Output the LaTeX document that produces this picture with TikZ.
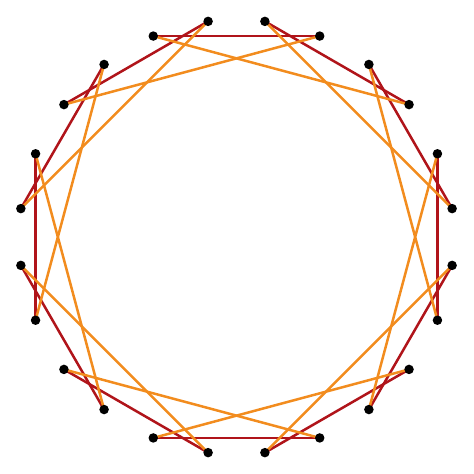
\documentclass[tikz,border=0pt]{standalone}
\definecolor{dred}{HTML}{B0141A}
\definecolor{dorange}{HTML}{F28C1E}
\tikzset{
  redline/.style={draw=dred, line width=2.5pt, line cap=round},
  orangeline/.style={draw=dorange, line width=2.5pt, line cap=round},
  dot/.style={circle, fill=black, inner sep=0pt, minimum size=9.5pt}
}
\begin{document}
\begin{tikzpicture}[x=1pt,y=1pt]
\useasboundingbox (-236.5,-237) rectangle (237.5,237);
\foreach \k in {0,...,23} {
  \coordinate (v\k) at ({7.5+15*\k}:217.5);
}
% red: (e, e+3) for even e
\foreach \e in {0,2,...,22} {
  \pgfmathtruncatemacro{\f}{mod(\e+3,24)}
  \draw[redline] (v\e) -- (v\f);
}
% orange: (e, e+5) for even e
\foreach \e in {0,2,...,22} {
  \pgfmathtruncatemacro{\f}{mod(\e+5,24)}
  \draw[orangeline] (v\e) -- (v\f);
}
\foreach \k in {0,...,23} {
  \node[dot] (d\k) at (v\k) {};
}
\end{tikzpicture}
\end{document}
